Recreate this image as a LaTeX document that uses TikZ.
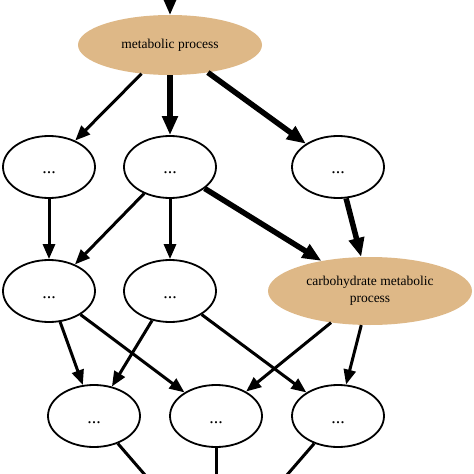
\documentclass[tikz,border=0pt]{standalone}
\usepackage{fontspec}
\setmainfont{Liberation Serif}
\usetikzlibrary{shapes.geometric,arrows.meta}
\definecolor{termtan}{HTML}{DEB887}
\begin{document}
\begin{tikzpicture}[x=1bp,y=-1bp,
  every node/.style={font=\fontsize{13.5bp}{17bp}\selectfont},
  plain/.style={ellipse,draw,line width=1.8bp,minimum width=92bp,minimum height=62bp,inner sep=0pt,
    font=\fontsize{18bp}{18bp}\selectfont,text height=14bp,text depth=0pt},
  term/.style={ellipse,fill=termtan,inner sep=0pt,align=center},
  thinedge/.style={line width=3bp,-{Triangle[length=15bp,width=12bp]}},
  thickedge/.style={line width=5.5bp,-{Triangle[length=19bp,width=15bp]}},
  bareedge/.style={line width=3bp}]
\clip (0,0) rectangle (474,474);
\useasboundingbox (0,0) rectangle (474,474);
% nodes
\node[term,minimum width=184bp,minimum height=60bp] (mp) at (170,45) {metabolic process};
\node[plain] (a1) at (49,167) {...};
\node[plain] (a2) at (170,167) {...};
\node[plain] (a3) at (338,167) {...};
\node[plain] (b1) at (49,291) {...};
\node[plain] (b2) at (170,291) {...};
\node[term,minimum width=204bp,minimum height=68bp] (cp) at (370,291) {carbohydrate metabolic\\process};
\node[plain] (c1) at (94,416) {...};
\node[plain] (c2) at (216,416) {...};
\node[plain] (c3) at (338,416) {...};
\coordinate (top) at (170,-80);
\coordinate (bot) at (216,557);
% edges
\draw[thinedge] (top) -- (mp);
\draw[thinedge] (mp) -- (a1);
\draw[thickedge] (mp) -- (a2);
\draw[thickedge] (mp) -- (a3);
\draw[thinedge] (a1) -- (b1);
\draw[thinedge] (a2) -- (b1);
\draw[thinedge] (a2) -- (b2);
\draw[thickedge] (a2) -- (cp);
\draw[thickedge] (a3) -- (cp);
\draw[thinedge] (b1) -- (c1);
\draw[thinedge] (b1) -- (c2);
\draw[thinedge] (b2) -- (c1);
\draw[thinedge] (b2) -- (c3);
\draw[thinedge] (cp) -- (c2);
\draw[thinedge] (cp) -- (c3);
\draw[bareedge] (c1) -- (bot);
\draw[bareedge] (c2) -- (bot);
\draw[bareedge] (c3) -- (bot);
\end{tikzpicture}
\end{document}
